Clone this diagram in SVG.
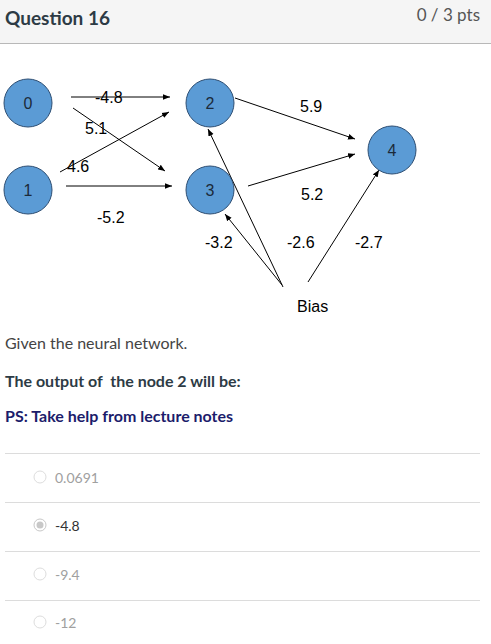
<svg xmlns="http://www.w3.org/2000/svg" width="491" height="644" viewBox="0 0 491 644">
<defs>
<marker id="ah" viewBox="0 0 10 10" refX="10" refY="5" markerWidth="7" markerHeight="7" markerUnits="userSpaceOnUse" orient="auto">
<path d="M0,1 L10,5 L0,9 Z" fill="#000"/>
</marker>
</defs>
<style>
.node circle{fill:#5b9bd5;stroke:#2f4f73;stroke-width:1}
.node text{font-family:"Liberation Sans",Arial,sans-serif;font-size:16px;fill:#1b2a3a;text-anchor:middle}
.edge{stroke:#000;stroke-width:1;fill:none;marker-end:url(#ah)}
.w{font-family:"Liberation Sans",Arial,sans-serif;font-size:16px;fill:#000}
.ui{font-family:Lato,"Open Sans",sans-serif}
.sep{stroke:#dcdcdc;stroke-width:1}
.radio{fill:#fff;stroke:#ddd;stroke-width:1}
.opt{font-family:Lato,"Open Sans",sans-serif;font-size:14px;fill:#a0a0a0}
</style>
<rect x="0" y="0" width="491" height="644" fill="#fff"/>
<g id="header">
<rect x="0" y="0" width="491" height="43" fill="#f5f5f5"/>
<line x1="0" y1="43.5" x2="491" y2="43.5" stroke="#b8b8b8" stroke-width="1"/>
<text x="5" y="25" class="ui" font-size="19" font-weight="bold" fill="#2d3b45">Question 16</text>
<text x="480" y="21" class="ui" font-size="17" fill="#555" text-anchor="end">0 / 3 pts</text>
</g>
<g id="connectors">
<line class="edge" x1="71" y1="97" x2="170" y2="97"/>
<line class="edge" x1="73" y1="108" x2="165" y2="171"/>
<line class="edge" x1="60" y1="172" x2="169" y2="112"/>
<line class="edge" x1="66" y1="186" x2="172" y2="186"/>
<line class="edge" x1="235" y1="98" x2="355" y2="139"/>
<line class="edge" x1="248" y1="186" x2="355" y2="154"/>
<line class="edge" x1="283" y1="287" x2="208" y2="129"/>
<line class="edge" x1="282" y1="285" x2="225" y2="214"/>
<line class="edge" x1="308" y1="282" x2="379" y2="170"/>
</g>
<g id="weights">
<text class="w" x="95" y="103">-4.8</text>
<text class="w" x="85" y="134">5.1</text>
<text class="w" x="67" y="172">4.6</text>
<text class="w" x="97" y="223">-5.2</text>
<text class="w" x="300" y="112">5.9</text>
<text class="w" x="301" y="200">5.2</text>
<text class="w" x="205" y="248">-3.2</text>
<text class="w" x="287" y="248">-2.6</text>
<text class="w" x="355" y="248">-2.7</text>
</g>
<g id="n0" class="node"><circle cx="28" cy="103" r="24"/><text x="28" y="109">0</text></g>
<g id="n1" class="node"><circle cx="28" cy="190" r="24"/><text x="28" y="196">1</text></g>
<g id="n2" class="node"><circle cx="210" cy="103" r="24"/><text x="210" y="109">2</text></g>
<g id="n3" class="node"><circle cx="210" cy="190" r="24"/><text x="210" y="196">3</text></g>
<g id="n4" class="node"><circle cx="392" cy="150" r="24"/><text x="392" y="156">4</text></g>
<g id="bias"><text class="w" x="297" y="312">Bias</text></g>
<g id="question">
<text x="5" y="349" class="ui" font-size="16" fill="#444">Given the neural network.</text>
<text x="5" y="387" class="ui" font-size="16" font-weight="bold" fill="#2d3b45" xml:space="preserve">The output of  the node 2 will be:</text>
<text x="5" y="422" class="ui" font-size="16" font-weight="bold" fill="#1c1c6b">PS: Take help from lecture notes</text>
</g>
<g id="options">
<line class="sep" x1="5" y1="453.5" x2="480" y2="453.5"/>
<line class="sep" x1="5" y1="502.5" x2="480" y2="502.5"/>
<line class="sep" x1="5" y1="551.5" x2="480" y2="551.5"/>
<line class="sep" x1="5" y1="600.5" x2="480" y2="600.5"/>
<circle class="radio" cx="40" cy="477" r="6"/>
<text class="opt" x="55" y="483">0.0691</text>
<circle class="radio" cx="40" cy="525" r="6" style="stroke:#c8c8c8"/>
<circle cx="40" cy="525" r="3.5" fill="#c8c8c8"/>
<text class="opt" x="55" y="531" style="fill:#333">-4.8</text>
<circle class="radio" cx="40" cy="574" r="6"/>
<text class="opt" x="55" y="580">-9.4</text>
<circle class="radio" cx="40" cy="622" r="6"/>
<text class="opt" x="55" y="628">-12</text>
</g>
</svg>
